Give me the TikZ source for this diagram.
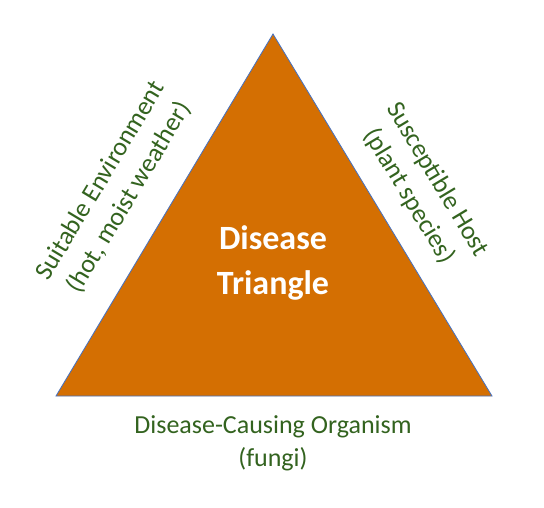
\documentclass[tikz,border=0pt]{standalone}
\usepackage{fontspec}
\setmainfont{Carlito}
\usepackage{tikz}
\usetikzlibrary{positioning,calc}
\usepackage{xcolor}
\definecolor{tribody}{HTML}{D46F02}
\definecolor{triedge}{HTML}{4472C4}
\definecolor{leaf}{HTML}{33631F}
\tikzset{
  triangle/.style={draw=triedge,fill=tribody,line width=0.8pt,line join=miter},
  title/.style={align=center,text=white,inner sep=0pt,
    font=\fontsize{34}{45}\selectfont\bfseries},
  factor/.style={align=center,text=leaf,inner sep=0pt,
    font=\fontsize{26}{33}\selectfont}
}
\begin{document}
\begin{tikzpicture}[x=1pt,y=-1pt]
      \useasboundingbox (0,0) rectangle (544,508);
      \coordinate (top) at (273,34);
      \coordinate (left) at (56,396);
      \coordinate (right) at (492,396);
      \draw[triangle] (top)--(right)--(left)--cycle;
      \node[title] (dis) at (273,263) {Disease\\Triangle};
      \node[factor,rotate=59] (env) at (115,189) {Suitable Environment\\(hot, moist weather)};
      \node[factor,rotate=-59] (host) at (423,188) {Susceptible Host\\(plant species)};
      \node[factor] (org) at (273,443) {Disease-Causing Organism\\(fungi)};
    \end{tikzpicture}
\end{document}
